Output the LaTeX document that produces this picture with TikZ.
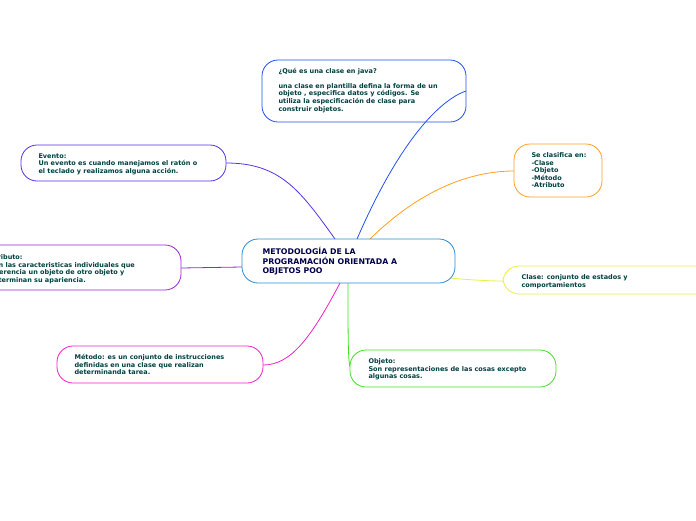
\documentclass[tikz,border=0pt]{standalone}
\usepackage{fontspec}
\setmainfont{DejaVu Sans}
\begin{document}
\begin{tikzpicture}[x=1pt,y=-1pt,
  txt/.style={font=\bfseries\fontsize{6.5}{7.6}\selectfont,text=teal!50!black,align=left,anchor=north west},
  box/.style={rounded corners=16pt,line width=0.8pt,fill=white},
  lk/.style={line width=0.8pt}]
\useasboundingbox (0,0) rectangle (696,520);
\definecolor{cblue}{HTML}{2F8AD0}
\definecolor{jblue}{HTML}{2050F0}
\definecolor{evc}{HTML}{5A2EF0}
\definecolor{atc}{HTML}{A020E0}
\definecolor{mec}{HTML}{F020C8}
\definecolor{obc}{HTML}{40E020}
\definecolor{clc}{HTML}{E8F040}
\definecolor{sec}{HTML}{FFA020}
% connectors
\coordinate (cj) at (357,239); \coordinate (jj) at (466,91);
\coordinate (ce) at (335,239); \coordinate (ee) at (226,163);
\coordinate (ca) at (242,267); \coordinate (aa) at (181,268);
\coordinate (cm) at (340,283); \coordinate (mm) at (263,365);
\coordinate (co) at (348,283); \coordinate (oo) at (351,368);
\coordinate (cc) at (450,278); \coordinate (ccl) at (503,281);
\coordinate (cs) at (370,239); \coordinate (ss) at (514,171);
\draw[lk,evc] (ce) .. controls (300,190) and (280,163) .. (ee);
\draw[lk,atc] (ca) -- (aa);
\draw[lk,mec] (cm) .. controls (310,340) and (290,365) .. (mm);
\draw[lk,obc] (co) .. controls (348,340) and (348,368) .. (oo);
\draw[lk,clc] (cc) .. controls (470,280) and (490,281) .. (ccl);
\draw[lk,sec] (cs) .. controls (420,190) and (470,171) .. (ss);
% boxes
\draw[box,draw=jblue] (262,60) rectangle (466,122);
\node[txt] (java) at (275,65) {¿Qué es una clase en java?\\[7pt]una clase en plantilla defina la forma de un\\objeto , especifica datos y códigos. Se\\utiliza la especificación de clase para\\construir objetos.};
\draw[lk,jblue] (cj) .. controls (400,140) and (440,100) .. (jj);
\draw[box,draw=evc] (21,145) rectangle (226,181);
\node[txt] (ev) at (35,150) {Evento:\\Un evento es cuando manejamos el ratón o\\el teclado y realizamos alguna acción.};
\draw[box,draw=atc] (-40,245) rectangle (181,290);
\node[txt] (at) at (-14,251) {Atributo:\\Son las caracteristicas individuales que\\diferencia un objeto de otro objeto y\\determinan su apariencia.};
\draw[box,draw=mec] (57,346) rectangle (263,383);
\node[txt] (me) at (71,351) {Método: es un conjunto de instrucciones\\definidas en una clase que realizan\\determinanda tarea.};
\draw[box,draw=obc] (350,350) rectangle (556,387);
\node[txt] (ob) at (365,355) {Objeto:\\Son representaciones de las cosas excepto\\algunas cosas.};
\draw[box,draw=clc] (503,266) rectangle (720,294);
\node[txt] (cl) at (518,271) {Clase: conjunto de estados y\\comportamientos};
\draw[box,draw=sec] (514,144) rectangle (602,197);
\node[txt] (se) at (528,149) {Se clasifica en:\\-Clase\\-Objeto\\-Método\\-Atributo};
\draw[box,draw=cblue] (242,239) rectangle (455,283);
\node[txt,font=\bfseries\fontsize{7.8}{9.5}\selectfont,text=blue!30!black] (c) at (259,244) {METODOLOGÍA DE LA\\PROGRAMACIÓN ORIENTADA A\\OBJETOS POO};
\end{tikzpicture}
\end{document}
